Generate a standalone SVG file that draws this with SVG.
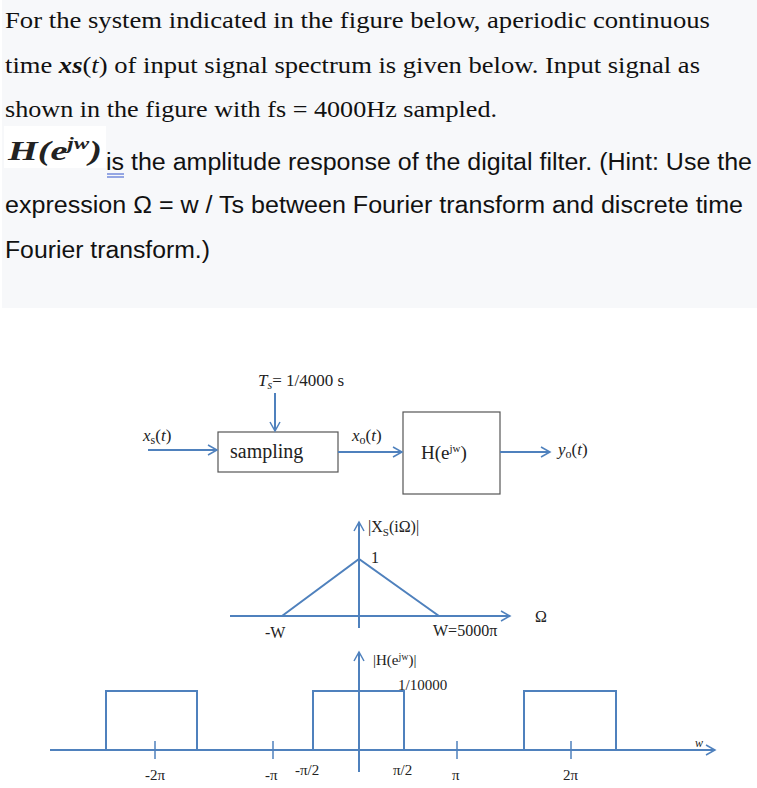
<svg xmlns="http://www.w3.org/2000/svg" width="757" height="788" viewBox="0 0 757 788">
<defs>
<style>
.serif{font-family:"Liberation Serif",serif;fill:#222}
.q{font-family:"Liberation Serif",serif;font-size:23px;fill:#111}
.s{font-family:"Liberation Sans",sans-serif;font-size:23px;fill:#111}
.b{stroke:#4f81bd;stroke-width:2;fill:none}
.bx{stroke:#555;stroke-width:1.2;fill:#fff}
</style>
<marker id="ar" markerWidth="12" markerHeight="12" refX="10" refY="6" orient="auto" markerUnits="userSpaceOnUse"><path d="M1,1 L10,6 L1,11" fill="none" stroke="#4f81bd" stroke-width="1.5"/></marker>
</defs>
<rect width="757" height="788" fill="#fff"/>
<rect x="2" y="0" width="755" height="308" fill="#f7f8fa"/>
<g id="text">
<text class="q" x="5" y="28" textLength="705" lengthAdjust="spacingAndGlyphs">For the system indicated in the figure below, aperiodic continuous</text>
<text class="q" x="5" y="73" textLength="695" lengthAdjust="spacingAndGlyphs">time <tspan font-weight="bold" font-style="italic">xs</tspan>(<tspan font-style="italic">t</tspan>) of input signal spectrum is given below. Input signal as</text>
<text class="q" x="5" y="117" textLength="492" lengthAdjust="spacingAndGlyphs">shown in the figure with fs = 4000Hz sampled.</text>
<rect x="4" y="126" width="102" height="42" fill="#fff"/>
<text x="8" y="160" font-family="Liberation Serif,serif" font-size="28" font-weight="bold" font-style="italic" fill="#222" textLength="94" lengthAdjust="spacingAndGlyphs">H(e<tspan font-size="17" dy="-11">jw</tspan><tspan dy="11">)</tspan></text>
<text class="s" x="106" y="170" textLength="646" lengthAdjust="spacingAndGlyphs">is the amplitude response of the digital filter. (Hint: Use the</text>
<line x1="107" y1="174" x2="124" y2="174" stroke="#3355cc" stroke-width="1"/>
<line x1="107" y1="177" x2="124" y2="177" stroke="#3355cc" stroke-width="1"/>
<text class="s" x="5" y="213" textLength="738" lengthAdjust="spacingAndGlyphs">expression Ω = w / Ts between Fourier transform and discrete time</text>
<text class="s" x="5" y="258" textLength="205" lengthAdjust="spacingAndGlyphs">Fourier transform.)</text>
</g>
<g id="sampling"><rect class="bx" x="218" y="432" width="120" height="40"/><text class="serif" x="230" y="458" font-size="20">sampling</text></g>
<g id="filter"><rect class="bx" x="403" y="412" width="97" height="82"/><text class="serif" x="421" y="459" font-size="19">H(e<tspan font-size="11" dy="-7">jw</tspan><tspan dy="7">)</tspan></text></g>
<g id="connectors">
<line class="b" x1="275" y1="393" x2="275" y2="431" marker-end="url(#ar)"/>
<line class="b" x1="148" y1="450" x2="217" y2="450" marker-end="url(#ar)"/>
<line class="b" x1="338" y1="452" x2="402" y2="452" marker-end="url(#ar)"/>
<line class="b" x1="500" y1="452" x2="550" y2="452" marker-end="url(#ar)"/>
</g>
<g id="labels" class="serif" font-size="17">
<text x="258" y="386"><tspan font-style="italic">T<tspan font-size="12" dy="3">s</tspan></tspan><tspan dy="-3">= 1/4000 s</tspan></text>
<text x="143" y="441"><tspan font-style="italic">x</tspan><tspan font-size="12" dy="3">s</tspan><tspan dy="-3">(<tspan font-style="italic">t</tspan>)</tspan></text>
<text x="352" y="441"><tspan font-style="italic">x</tspan><tspan font-size="12" dy="3">o</tspan><tspan dy="-3">(<tspan font-style="italic">t</tspan>)</tspan></text>
<text x="558" y="455"><tspan font-style="italic">y</tspan><tspan font-size="12" dy="3">o</tspan><tspan dy="-3">(<tspan font-style="italic">t</tspan>)</tspan></text>
</g>
<g id="spectrum">
<line class="b" x1="230" y1="616" x2="510" y2="616" marker-end="url(#ar)"/>
<line class="b" x1="359" y1="628" x2="359" y2="522" marker-end="url(#ar)"/>
<polyline class="b" points="282,616 359,559 439,616"/>
<g class="serif" font-size="16">
<text x="368" y="532">|X<tspan font-size="11" dy="4">S</tspan><tspan dy="-4">(iΩ)|</tspan></text>
<text x="371" y="563">1</text>
<text x="535" y="622">Ω</text>
<text x="265" y="638">-W</text>
<text x="433" y="636">W=5000π</text>
</g>
</g>
<g id="response">
<line class="b" x1="50" y1="750" x2="715" y2="750" marker-end="url(#ar)"/>
<line class="b" x1="359" y1="772" x2="359" y2="652" marker-end="url(#ar)"/>
<polyline class="b" points="106,750 106,691 197,691 197,750"/>
<polyline class="b" points="313,750 313,691 404,691 404,750"/>
<polyline class="b" points="524,750 524,691 616,691 616,750"/>
<g stroke="#4f81bd" stroke-width="1.5">
<line x1="155" y1="741" x2="155" y2="759"/><line x1="273" y1="741" x2="273" y2="759"/>
<line x1="457" y1="741" x2="457" y2="759"/><line x1="571" y1="741" x2="571" y2="759"/>
</g>
<g class="serif" font-size="15">
<text x="373" y="665">|H(e<tspan font-size="10" dy="-5">jw</tspan><tspan dy="5">)|</tspan></text>
<text x="398" y="690">1/10000</text>
<text x="145" y="780">-2π</text>
<text x="265" y="780">-π</text>
<text x="295" y="775">-π/2</text>
<text x="393" y="775">π/2</text>
<text x="452" y="780">π</text>
<text x="563" y="780">2π</text>
<text x="695" y="747" font-style="italic" font-size="12">w</text>
</g>
</g>
</svg>
